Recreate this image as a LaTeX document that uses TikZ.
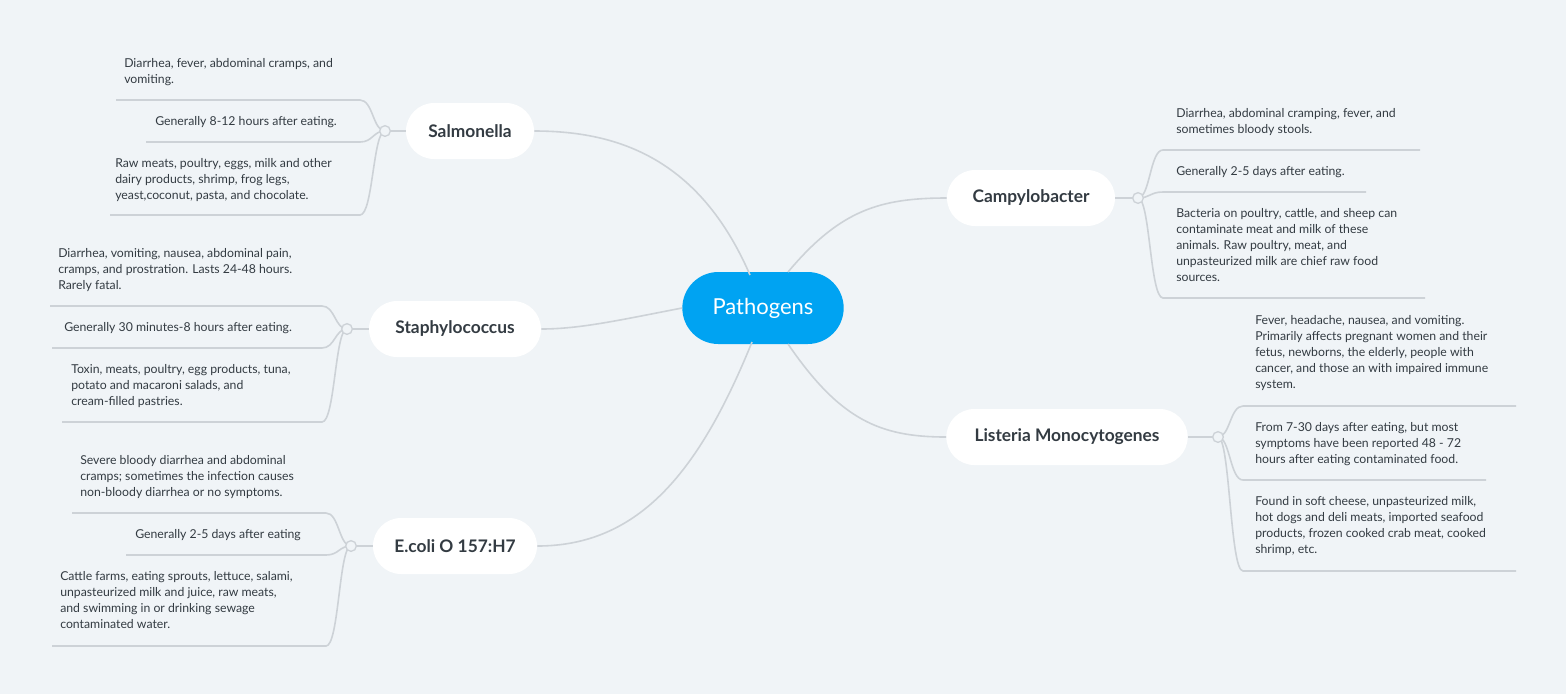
\documentclass[tikz,border=0pt]{standalone}
\usepackage{fontspec}
\setmainfont{Lato}
\definecolor{bg}{HTML}{F0F4F7}
\definecolor{ln}{HTML}{CDD2D7}
\definecolor{tx}{HTML}{333B42}
\definecolor{blu}{HTML}{00A3F2}
\tikzset{
 conn/.style={draw=ln,line width=1.2pt},
 branch/.style={fill=white,rounded corners=21pt,minimum height=42pt,text=tx,font=\fontsize{13}{15}\selectfont\bfseries,inner xsep=12pt},
 leaf/.style={anchor=north west,inner sep=0pt,align=left,text=tx,font=\fontsize{9.2}{12}\selectfont},
 junc/.style={circle,draw=ln,fill=bg,line width=1pt,minimum size=8pt,inner sep=0pt}
}
\begin{document}
\begin{tikzpicture}[x=0.75pt,y=-0.75pt]
\fill[bg] (0,0) rectangle (1566,694);
\node[fill=blu,rounded corners=27pt,minimum width=121pt,minimum height=54pt,text=white,font=\fontsize{16.5}{18}\selectfont] (P) at (763,308) {Pathogens};
\node[branch,minimum width=96pt] (S) at (470,131) {Salmonella};
\node[branch,minimum width=129pt] (T) at (455,329) {Staphylococcus};
\node[branch,minimum width=123pt] (E) at (455,546) {E.coli O 157:H7};
\node[branch,minimum width=126pt] (C) at (1031,198) {Campylobacter};
\node[branch,minimum width=181pt] (L) at (1067,437) {Listeria Monocytogenes};
% center connectors
\draw[conn] (P.north west)++(68,2) coordinate (p1);
\draw[conn] (750,275) .. controls (700,160) and (620,131) .. (S.east);
\draw[conn] (P.west) .. controls (620,320) and (580,329) .. (T.east);
\draw[conn] (752,342) .. controls (700,470) and (640,546) .. (E.east);
\draw[conn] (788,272) .. controls (840,210) and (880,198) .. (C.west);
\draw[conn] (788,344) .. controls (840,420) and (880,437) .. (L.west);
% junctions (left side)
\newcommand{\leftbranch}[6]{% node, jx, jy, list of (ly,lx)
 \coordinate (#1j) at (#2,#3);
 \draw[conn] (#1.west) -- (#1j);
 \foreach \ly/\lx [count=\i] in {#4,#5,#6}{
  \coordinate (#1u\i) at (\lx,\ly);
  \draw[conn] (#1j) .. controls (#2-12,#3) and (#2-12,\ly) .. (#2-25,\ly) -- (#1u\i);
 }
 \node[junc] (#1c) at (#1j) {};
}
\newcommand{\rightbranch}[6]{%
 \coordinate (#1j) at (#2,#3);
 \draw[conn] (#1.east) -- (#1j);
 \foreach \ly/\lx [count=\i] in {#4,#5,#6}{
  \coordinate (#1u\i) at (\lx,\ly);
  \draw[conn] (#1j) .. controls (#2+12,#3) and (#2+12,\ly) .. (#2+25,\ly) -- (#1u\i);
 }
 \node[junc] (#1c) at (#1j) {};
}
\leftbranch{S}{385}{131}{100/116}{142/146}{215/110}
\leftbranch{T}{347}{329}{306/50}{348/52}{422/62}
\leftbranch{E}{351}{546}{513/72}{555/126}{646/52}
\rightbranch{C}{1138}{198}{150/1420}{192/1366}{298/1425}
\rightbranch{L}{1218}{437}{406/1516}{480/1486}{571/1516}
% leaves
\node[leaf] (s1) at (124,58) {Diarrhea, fever, abdominal cramps, and\\vomiting.};
\node[leaf] (s2) at (155,116) {Generally 8-12 hours after eating.};
\node[leaf] (s3) at (115,158) {Raw meats, poultry, eggs, milk and other\\dairy products, shrimp, frog legs,\\yeast,coconut, pasta, and chocolate.};
\node[leaf] (t1) at (58,248) {Diarrhea, vomiting, nausea, abdominal pain,\\cramps, and prostration. Lasts 24-48 hours.\\Rarely fatal.};
\node[leaf] (t2) at (64,322) {Generally 30 minutes-8 hours after eating.};
\node[leaf] (t3) at (71,364) {Toxin, meats, poultry, egg products, tuna,\\potato and macaroni salads, and\\cream-filled pastries.};
\node[leaf] (e1) at (80,455) {Severe bloody diarrhea and abdominal\\cramps; sometimes the infection causes\\non-bloody diarrhea or no symptoms.};
\node[leaf] (e2) at (135,529) {Generally 2-5 days after eating};
\node[leaf] (e3) at (60,571) {Cattle farms, eating sprouts, lettuce, salami,\\unpasteurized milk and juice, raw meats,\\and swimming in or drinking sewage\\contaminated water.};
\node[leaf] (c1) at (1176,108) {Diarrhea, abdominal cramping, fever, and\\sometimes bloody stools.};
\node[leaf] (c2) at (1176,166) {Generally 2-5 days after eating.};
\node[leaf] (c3) at (1176,208) {Bacteria on poultry, cattle, and sheep can\\contaminate meat and milk of these\\animals. Raw poultry, meat, and\\unpasteurized milk are chief raw food\\sources.};
\node[leaf] (l1) at (1255,315) {Fever, headache, nausea, and vomiting.\\Primarily affects pregnant women and their\\fetus, newborns, the elderly, people with\\cancer, and those an with impaired immune\\system.};
\node[leaf] (l2) at (1255,422) {From 7-30 days after eating, but most\\symptoms have been reported 48 - 72\\hours after eating contaminated food.};
\node[leaf] (l3) at (1255,496) {Found in soft cheese, unpasteurized milk,\\hot dogs and deli meats, imported seafood\\products, frozen cooked crab meat, cooked\\shrimp, etc.};
\end{tikzpicture}
\end{document}
